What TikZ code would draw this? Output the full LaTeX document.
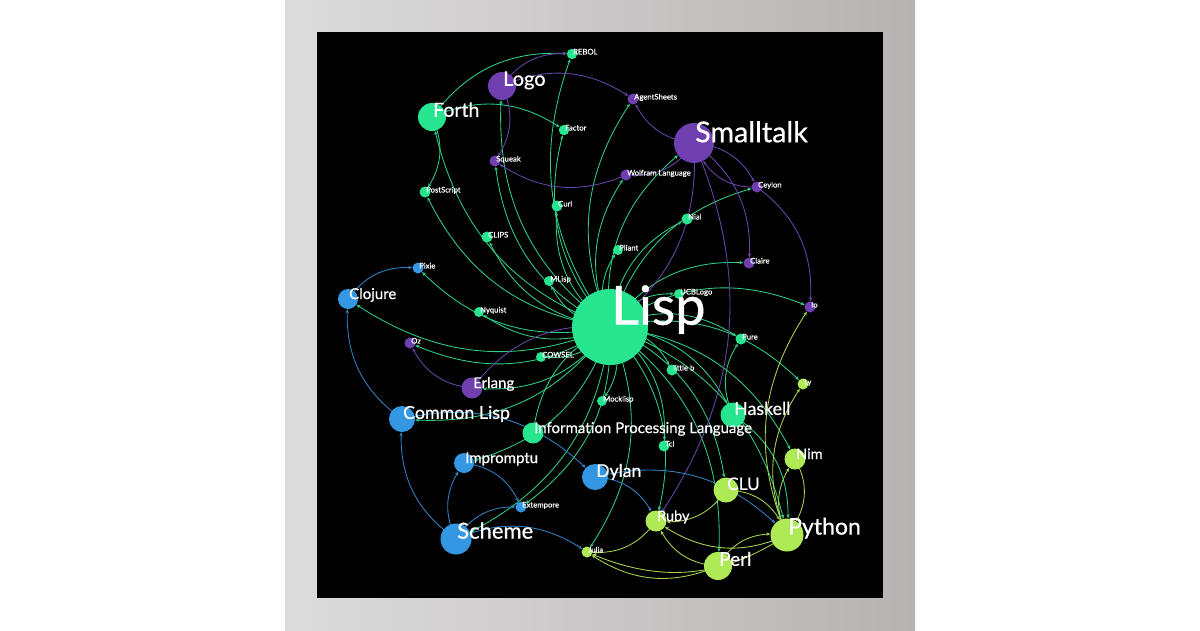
\documentclass[tikz,border=0pt]{standalone}
\usepackage{fontspec}
\setmainfont{Lato}[FakeBold=0.6]
\usetikzlibrary{arrows.meta}
\definecolor{cgreen}{HTML}{27E58F}
\definecolor{cpurple}{HTML}{6F3FB0}
\definecolor{cblue}{HTML}{3497E4}
\definecolor{cyellow}{HTML}{AEEA55}
\definecolor{egreen}{HTML}{2FCF85}
\definecolor{epurple}{HTML}{6A45A8}
\definecolor{eblue}{HTML}{2F82C6}
\definecolor{eyellow}{HTML}{A8D552}
\definecolor{gleft}{HTML}{DDDCDC}
\definecolor{gright}{HTML}{B6B3B2}
\pgfdeclarelayer{edges}
\pgfsetlayers{edges,main}
\tikzset{
  lang/.style={circle,inner sep=0pt,draw=none},
  langlabel/.style={anchor=west,text=white,inner sep=0pt,text height=7.5pt,text depth=2pt,font=\fontsize{#1}{#1}\selectfont},
  ed/.style={line width=.85pt,-{Stealth[length=4pt,width=3.4pt]},bend left=28},
  eg/.style={ed,draw=egreen},
  ep/.style={ed,draw=epurple},
  eb/.style={ed,draw=eblue},
  ey/.style={ed,draw=eyellow},
}
% name, x, y, radius, colour, font size, label
\newcommand{\lng}[7]{%
  \node[lang,fill=#5,minimum size=#4*2pt] (#1) at (#2,#3) {};
  \expandafter\gdef\csname lbl#1\endcsname{\node[langlabel=#6] (#1-l) at (#2+1,{#3-1.8-0.06*#6}) {#7};}%
}
\newcommand{\lb}[1]{\csname lbl#1\endcsname}
\begin{document}
\begin{tikzpicture}[x=1pt,y=-1pt]
\useasboundingbox (0,0) rectangle (1200,630);
\begin{pgfonlayer}{edges}
\fill[white] (0,0) rectangle (1200,630);
\shade[left color=gleft,right color=gright] (285,0) rectangle (915,630);
\fill[black] (317,32) rectangle (883,598);
\end{pgfonlayer}
\lng{lisp}{610}{327}{38}{cgreen}{54}{Lisp}
\lng{logo}{502}{86}{14}{cpurple}{20}{Logo}
\lng{forth}{432}{117}{14}{cgreen}{19.5}{Forth}
\lng{smalltalk}{694}{143}{20}{cpurple}{28.7}{Smalltalk}
\lng{clojure}{348}{299}{10}{cblue}{15}{Clojure}
\lng{commonlisp}{402}{419}{13}{cblue}{17.8}{Common Lisp}
\lng{ipl}{533}{433}{10.5}{cgreen}{15}{Information Processing Language}
\lng{impromptu}{464}{463}{10}{cblue}{15}{Impromptu}
\lng{dylan}{595}{477}{13}{cblue}{17.6}{Dylan}
\lng{scheme}{456}{539}{15.5}{cblue}{22}{Scheme}
\lng{erlang}{472}{388}{10.5}{cpurple}{15}{Erlang}
\lng{oz}{410}{343}{5.5}{cpurple}{7.7}{Oz}
\lng{cowsel}{541}{357}{5}{cgreen}{7.7}{COWSEL}
\lng{pixie}{418}{268}{5.5}{cblue}{7.7}{Pixie}
\lng{nyquist}{479}{312}{5}{cgreen}{7.7}{Nyquist}
\lng{mlisp}{549}{281}{5}{cgreen}{7.7}{MLisp}
\lng{clips}{487}{237}{5.5}{cgreen}{7.7}{CLIPS}
\lng{postscript}{425}{192}{5.5}{cgreen}{7.7}{PostScript}
\lng{squeak}{495}{161}{5.5}{cpurple}{7.7}{Squeak}
\lng{curl}{557}{206}{5.5}{cgreen}{7.7}{Curl}
\lng{factor}{564}{130}{5.2}{cgreen}{7.7}{Factor}
\lng{rebol}{572}{54}{5.2}{cgreen}{7.7}{REBOL}
\lng{agentsheets}{633}{99}{5.5}{cpurple}{7.7}{AgentSheets}
\lng{wolfram}{626}{175}{5.5}{cpurple}{7.7}{Wolfram Language}
\lng{ceylon}{757}{187}{5.5}{cpurple}{7.7}{Ceylon}
\lng{nial}{687}{219}{5.5}{cgreen}{7.7}{Nial}
\lng{pliant}{618}{250}{5}{cgreen}{7.7}{Pliant}
\lng{claire}{749}{263}{5.5}{cpurple}{7.7}{Claire}
\lng{ucblogo}{679}{294}{5}{cgreen}{7.7}{UCBLogo}
\lng{io}{810}{307}{5.5}{cpurple}{7.7}{Io}
\lng{pure}{741}{339}{5.5}{cgreen}{7.7}{Pure}
\lng{littleb}{672}{370}{5.5}{cgreen}{7.7}{little b}
\lng{ly}{803}{384}{5.5}{cyellow}{7.7}{Ly}
\lng{mocklisp}{602}{401}{5}{cgreen}{7.7}{Mocklisp}
\lng{haskell}{733}{415}{12.5}{cgreen}{17.8}{Haskell}
\lng{nim}{795}{459}{10.5}{cyellow}{14.5}{Nim}
\lng{tcl}{664}{446}{5.5}{cgreen}{7.7}{Tcl}
\lng{clu}{726}{490}{12.5}{cyellow}{17.2}{CLU}
\lng{python}{787}{535}{16.5}{cyellow}{23}{Python}
\lng{perl}{718}{566}{14}{cyellow}{19}{Perl}
\lng{ruby}{656}{521}{10.5}{cyellow}{14.5}{Ruby}
\lng{julia}{587}{552}{5.5}{cyellow}{7.7}{Julia}
\lng{extempore}{521}{507}{5.5}{cblue}{7.7}{Extempore}
\begin{pgfonlayer}{edges}
% Lisp outward
\foreach \t in {logo,squeak,mlisp,clips,postscript,forth,curl,factor,rebol,agentsheets,wolfram,smalltalk,pliant,nial,ceylon,claire,ucblogo,io,pure,ly,littleb,haskell,nim,clu,perl,tcl,ruby,python,mocklisp,impromptu,scheme,extempore,julia,commonlisp,erlang,oz,cowsel,nyquist,pixie,clojure}
  {\draw[eg] (lisp.center) to (\t);}
\draw[eg] (ipl.center) to (lisp.center);
\draw[eg] (forth.center) to (postscript);
\draw[eg] (forth.center) to (rebol);
\draw[eg] (forth.center) to (factor);
\draw[eg] (haskell.center) to (python);
\draw[eg] (haskell.center) to (pure);
% purple
\draw[ep] (logo.center) to (rebol);
\draw[ep] (logo.center) to (agentsheets);
\draw[ep] (logo.center) to (squeak);
\draw[ep] (wolfram.center) to (squeak);
\draw[ep] (smalltalk.center) to (agentsheets);
\draw[ep] (smalltalk.center) to (wolfram);
\draw[ep] (smalltalk.center) to (ceylon);
\draw[ep] (ceylon.center) to (smalltalk);
\draw[ep] (smalltalk.center) to (claire);
\draw[ep] (smalltalk.center) to (ruby);
\draw[ep] (smalltalk.center) to (lisp.center);
\draw[ep] (ceylon.center) to (io);
\draw[ep] (erlang.center) to (lisp.center);
\draw[ep] (erlang.center) to (oz);
% blue
\draw[eb] (clojure.center) to (pixie);
\draw[eb] (commonlisp.center) to (clojure);
\draw[eb] (scheme.center) to (commonlisp);
\draw[eb] (scheme.center) to (impromptu);
\draw[eb] (scheme.center) to (extempore);
\draw[eb] (impromptu.center) to (extempore);
\draw[eb] (scheme.center) to (julia);
\draw[eb] (commonlisp.center) to (dylan);
\draw[eb] (dylan.center) to (ruby);
\draw[eb] (dylan.center) to (python);
% yellow
\draw[ey] (python.center) to (io);
\draw[ey] (python.center) to (ly);
\draw[ey] (python.center) to (nim);
\draw[ey] (nim.center) to (python);
\draw[ey] (clu.center) to (python);
\draw[ey] (perl.center) to (python);
\draw[ey] (python.center) to (julia);
\draw[ey] (python.center) to (ruby);
\draw[ey] (clu.center) to (ruby);
\draw[ey] (perl.center) to (ruby);
\draw[ey] (perl.center) to (julia);
\draw[ey] (ruby.center) to (julia);
\end{pgfonlayer}
% labels
\foreach \n in {lisp,logo,forth,smalltalk,clojure,commonlisp,ipl,impromptu,dylan,scheme,erlang,oz,cowsel,pixie,nyquist,mlisp,clips,postscript,squeak,curl,factor,rebol,agentsheets,wolfram,ceylon,nial,pliant,claire,ucblogo,io,pure,littleb,ly,mocklisp,haskell,nim,tcl,clu,python,perl,ruby,julia,extempore}
  {\lb{\n}}
\end{tikzpicture}
\end{document}
